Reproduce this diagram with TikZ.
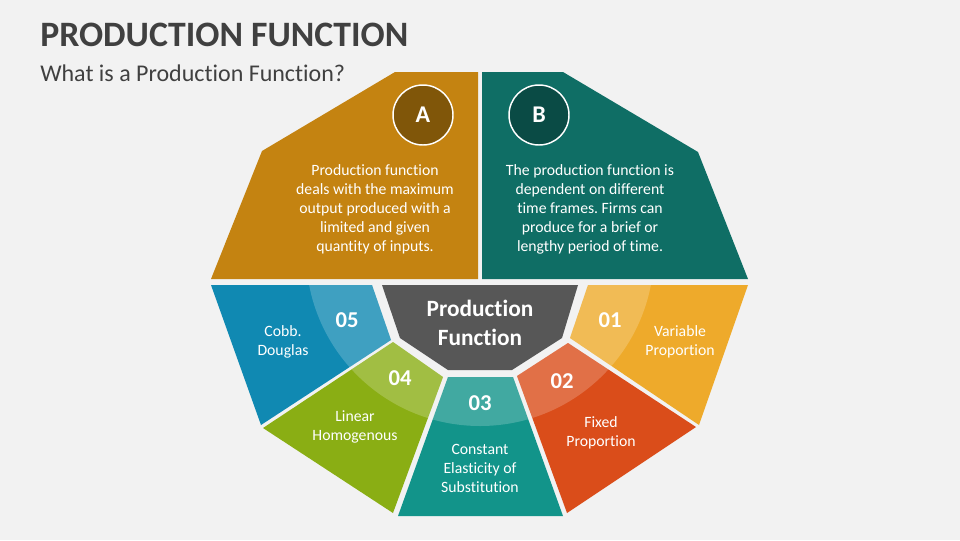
\documentclass[tikz,border=0pt]{standalone}
\usepackage{fontspec}
\setmainfont[Ligatures=NoCommon]{Carlito}
\usepackage{xcolor}
\usepackage{tikz}
\usetikzlibrary{positioning}
\frenchspacing

\definecolor{bgcol}{RGB}{242,242,242}
\definecolor{titlecol}{RGB}{64,64,64}
\definecolor{colA}{RGB}{196,131,17}
\definecolor{colAdark}{RGB}{128,86,9}
\definecolor{colB}{RGB}{15,110,101}
\definecolor{colBdark}{RGB}{10,75,69}
\definecolor{segA}{RGB}{238,170,43}
\definecolor{segB}{RGB}{218,77,26}
\definecolor{segC}{RGB}{18,148,138}
\definecolor{segD}{RGB}{138,174,20}
\definecolor{segE}{RGB}{16,137,178}
\definecolor{hubcol}{RGB}{87,87,87}

\tikzset{
  desc/.style={
    font=\fontsize{11.8}{14.25}\selectfont, text=white,
    align=center, inner sep=0pt
  },
  num/.style={
    font=\bfseries\fontsize{17}{20}\selectfont, text=white, inner sep=0pt
  },
  badge/.style={
    circle, draw=white, line width=1.1pt, minimum size=45pt, inner sep=0pt,
    font=\bfseries\fontsize{18}{20}\selectfont, text=white
  },
  hub/.style={
    font=\bfseries\fontsize{17.5}{21.8}\selectfont, text=white,
    align=center, inner sep=0pt
  },
  glow/.style={fill=white, fill opacity=0.2},
}

\begin{document}
\begin{tikzpicture}[x=0.75pt,y=-0.75pt]

  % canvas
  \useasboundingbox (0,0) rectangle (960,540);
  \fill[bgcol] (0,0) rectangle (960,540);

  % Heading
  \node[anchor=base west, inner sep=0pt, text=titlecol,
        font=\bfseries\fontsize{26.8}{30}\selectfont] (title) at (40,46)
        {PRODUCTION FUNCTION};
  \node[anchor=base west, inner sep=0pt, text=titlecol,
        font=\fontsize{18}{20}\selectfont] (subtitle) at (40,81)
        {What is a Production Function?};

  % Upper halves
  \fill[colA] (395,72) -- (478,72) -- (478,279) -- (211,279) -- (262,151) -- cycle;
  \fill[colB] (482,72) -- (563,72) -- (698,152) -- (748,279) -- (482,279) -- cycle;

  \node[badge, fill=colAdark] (badgeA) at (423,115) {A};
  \node[badge, fill=colBdark] (badgeB) at (539,115) {B};

  \node[desc] (textA) at (375,209)
        {Production function\\deals with the maximum\\output produced with a\\limited and given\\quantity of inputs.};
  \node[desc] (textB) at (590,209)
        {The production function is\\dependent on different\\time frames. Firms can\\produce for a brief or\\lengthy period of time.};

  % Lower segments with the light ring
  \foreach \seg/\col in {
      {(588,285) -- (748,285) -- (699,425) -- (570,338)}/segA,
      {(568,343) -- (696,427) -- (567,513) -- (517,376)}/segB,
      {(448,377) -- (513,377) -- (563,516) -- (398,516)}/segC,
      {(393,342) -- (443,377) -- (393,513) -- (263,428)}/segD,
      {(211,285) -- (372,285) -- (391,340) -- (261,425)}/segE}{
    \begin{scope}
      \clip \seg -- cycle;
      \fill[\col] (0,0) rectangle (960,540);
      \fill[glow] (480,252) circle [radius=174];
    \end{scope}
  }

  % Hub
  \fill[hubcol] (382,285) -- (578,285) -- (562,338) -- (512,370)
                -- (448,370) -- (400,338) -- cycle;
  \node[hub] (hubtext) at (480,323) {Production\\Function};

  % Segment labels
  \node[num] (n1) at (610,320) {01};
  \node[num] (n2) at (562,381) {02};
  \node[num] (n3) at (480,403) {03};
  \node[num] (n4) at (400,378) {04};
  \node[num] (n5) at (347,320) {05};

  \node[desc] (l1) at (680,342) {Variable\\Proportion};
  \node[desc] (l2) at (601,433) {Fixed\\Proportion};
  \node[desc] (l3) at (480,468) {Constant\\Elasticity of\\Substitution};
  \node[desc] (l4) at (355,427) {Linear\\Homogenous};
  \node[desc] (l5) at (283,342) {Cobb.\\Douglas};

\end{tikzpicture}
\end{document}
